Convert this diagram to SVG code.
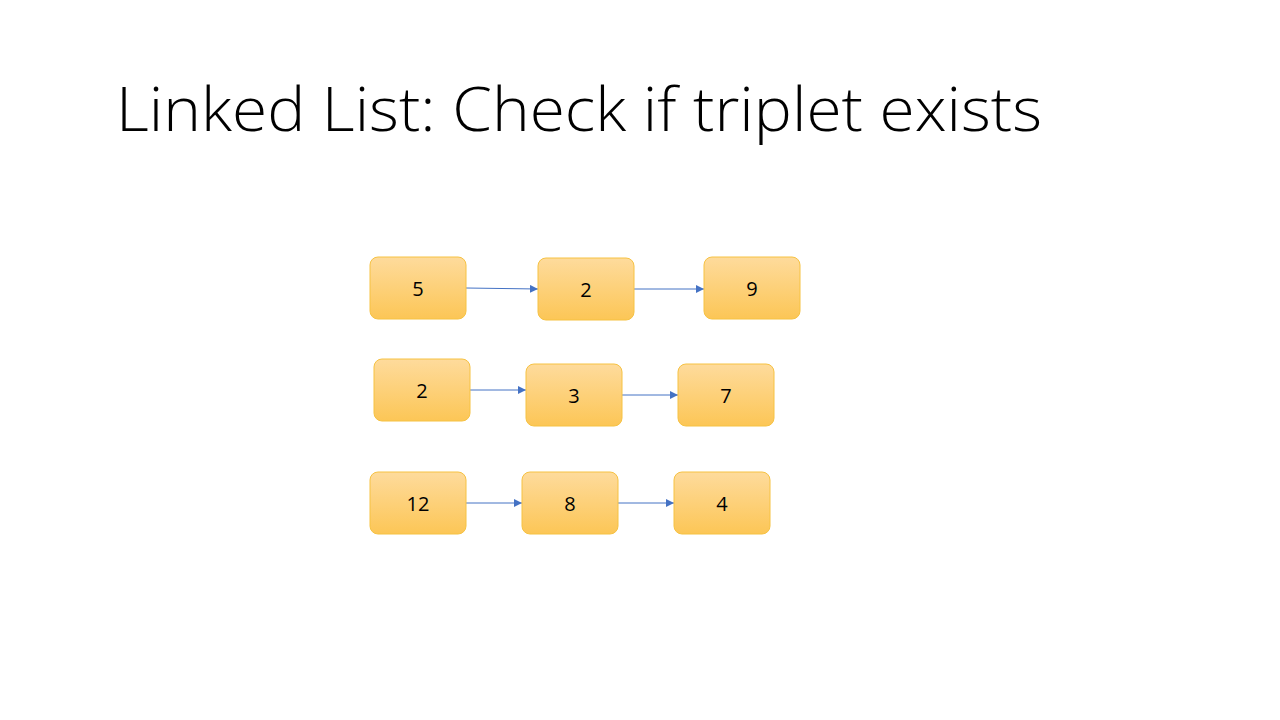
<svg xmlns="http://www.w3.org/2000/svg" width="1280" height="720" viewBox="0 0 1280 720">
<defs>
<linearGradient id="g" x1="0" y1="0" x2="0" y2="1">
<stop offset="0" stop-color="#fedb9c"/>
<stop offset="1" stop-color="#fcc656"/>
</linearGradient>
<marker id="ah" viewBox="0 0 10 10" refX="10" refY="5" markerWidth="8" markerHeight="8" markerUnits="userSpaceOnUse" orient="auto">
<path d="M0,0 L10,5 L0,10 z" fill="#4472c4"/>
</marker>
</defs>
<style>
.n rect{fill:url(#g);stroke:#f6c243;stroke-width:1}
.n text{font-family:"Open Sans","Liberation Sans",sans-serif;font-size:20px;fill:#000;text-anchor:middle;dominant-baseline:central}
.c line{stroke:#4472c4;stroke-width:1;marker-end:url(#ah)}
</style>
<rect width="1280" height="720" fill="#fff"/>
<text x="116" y="131" font-family="'Open Sans','Liberation Sans',sans-serif" font-weight="300" font-size="60" textLength="926" lengthAdjust="spacingAndGlyphs" fill="#000">Linked List: Check if triplet exists</text>
<g class="c">
<line x1="466" y1="288" x2="538" y2="289"/>
<line x1="634" y1="289" x2="704" y2="289"/>
<line x1="470" y1="390" x2="526" y2="390"/>
<line x1="622" y1="395" x2="678" y2="395"/>
<line x1="466" y1="503" x2="522" y2="503"/>
<line x1="618" y1="503" x2="674" y2="503"/>
</g>
<g id="n1" class="n"><rect x="370" y="257" width="96" height="62" rx="8"/><text x="418" y="288">5</text></g>
<g id="n2" class="n"><rect x="538" y="258" width="96" height="62" rx="8"/><text x="586" y="289">2</text></g>
<g id="n3" class="n"><rect x="704" y="257" width="96" height="62" rx="8"/><text x="752" y="288">9</text></g>
<g id="n4" class="n"><rect x="374" y="359" width="96" height="62" rx="8"/><text x="422" y="390">2</text></g>
<g id="n5" class="n"><rect x="526" y="364" width="96" height="62" rx="8"/><text x="574" y="395">3</text></g>
<g id="n6" class="n"><rect x="678" y="364" width="96" height="62" rx="8"/><text x="726" y="395">7</text></g>
<g id="n7" class="n"><rect x="370" y="472" width="96" height="62" rx="8"/><text x="418" y="503">12</text></g>
<g id="n8" class="n"><rect x="522" y="472" width="96" height="62" rx="8"/><text x="570" y="503">8</text></g>
<g id="n9" class="n"><rect x="674" y="472" width="96" height="62" rx="8"/><text x="722" y="503">4</text></g>
</svg>
